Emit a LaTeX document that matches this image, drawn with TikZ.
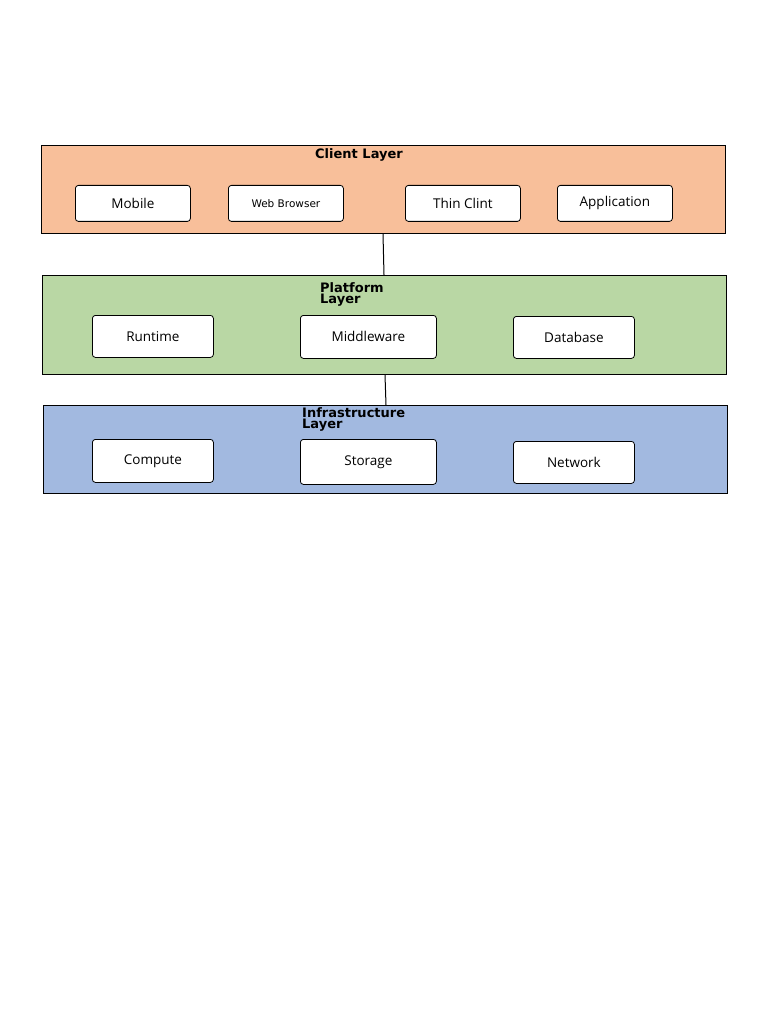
\documentclass[tikz,border=0pt]{standalone}
\usepackage{fontspec}
\setmainfont{DejaVu Sans}
\newfontfamily\lbl{Open Sans}
\begin{document}
\begin{tikzpicture}[x=1pt,y=-1pt,
  layer/.style={draw=black,line width=1.2pt,anchor=north west,inner sep=0},
  item/.style={draw=black,fill=white,rounded corners=3pt,line width=0.8pt,anchor=north west,inner sep=0,font=\lbl\fontsize{13.5}{15}\selectfont},
  ttl/.style={anchor=north west,inner sep=0,font=\bfseries\fontsize{13}{15}\selectfont,align=left},
  conn/.style={draw=black,line width=1pt}]
\useasboundingbox (0,0) rectangle (768,1024);
\node[layer,fill={rgb,255:red,248;green,191;blue,154},minimum width=684pt,minimum height=88pt] (client) at (41,145) {};
\node[layer,fill={rgb,255:red,185;green,215;blue,164},minimum width=684pt,minimum height=99pt] (plat) at (42,275) {};
\node[layer,fill={rgb,255:red,162;green,185;blue,224},minimum width=684pt,minimum height=88pt] (infra) at (43,405) {};
\node[ttl] (tc) at (315,148) {Client Layer};
\node[ttl] (tp) at (320,282) {Platform\\[-4pt]Layer};
\node[ttl] (ti) at (302,407) {Infrastructure\\[-4pt]Layer};
\node[item,minimum width=115pt,minimum height=36pt] (mob) at (75,185) {Mobile};
\node[item,minimum width=115pt,minimum height=36pt,font=\fontsize{10.5}{12}\selectfont] (web) at (228,185) {Web Browser};
\node[item,minimum width=115pt,minimum height=36pt] (thin) at (405,185) {Thin Clint};
\node[item,minimum width=115pt,minimum height=36pt] (app) at (557,185) {Application};
\node[item,minimum width=121pt,minimum height=42pt] (run) at (92,315) {Runtime};
\node[item,minimum width=136pt,minimum height=43pt] (mid) at (300,315) {Middleware};
\node[item,minimum width=121pt,minimum height=42pt] (db) at (513,316) {Database};
\node[item,minimum width=121pt,minimum height=43pt] (comp) at (92,439) {Compute};
\node[item,minimum width=136pt,minimum height=45pt] (stor) at (300,439) {Storage};
\node[item,minimum width=121pt,minimum height=42pt] (net) at (513,441) {Network};
\draw[conn] (client.south -| 383,0) -- (plat.north -| 384,0);
\draw[conn] (plat.south -| 385,0) -- (infra.north -| 386,0);
\end{tikzpicture}
\end{document}
